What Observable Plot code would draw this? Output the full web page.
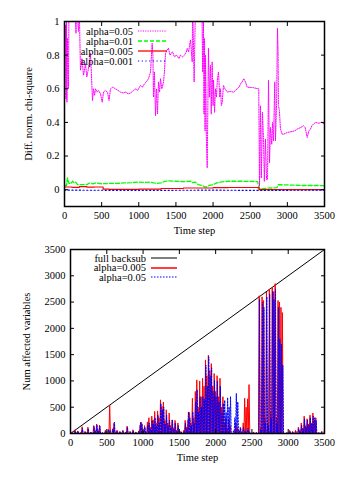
<!DOCTYPE html>
<html><head><meta charset="utf-8">
<script src="https://cdn.jsdelivr.net/npm/d3@7"></script>
<script src="https://cdn.jsdelivr.net/npm/@observablehq/plot@0.6"></script>
<style>
body{margin:0;background:#fff;font-family:"Liberation Serif","DejaVu Serif",serif;}
#wrap{position:relative;width:359px;height:477px;overflow:hidden;}
.leg{position:absolute;font:10.5px "Liberation Serif",serif;color:#000;display:flex;align-items:center;white-space:nowrap;}
.leg span{text-align:right;display:inline-block;}
.leg svg{margin-left:5px;}
</style></head>
<body><div id="wrap"></div>
<script>
// ---------- Top chart data ----------
const timeTicks = [0,500,1000,1500,2000,2500,3000,3500];
const topYTicks = [0,0.2,0.4,0.6,0.8,1];
const a05T = [0,13,20,27,33,40,54,60,100,148,155,165,188,200,215,235,256,283,300,323,350,365,377,390,405,417,440,458,485,507,525,550,579,600,619,650,686,720,754,790,821,860,888,929,960,983,1023,1050,1077,1100,1131,1158,1180,1190,1198,1210,1225,1238,1252,1265,1280,1292,1310,1333,1345,1360,1380,1400,1420,1454,1480,1508,1540,1561,1590,1615,1640,1652,1670,1696,1719,1725,1736,1745,1763,1790,1804,1831,1850,1860,1871,1878,1885,1892,1898,1905,1910,1921,1930,1938,1950,1965,1975,1988,2000,2006,2020,2032,2045,2059,2073,2090,2100,2112,2123,2140,2160,2194,2230,2275,2300,2325,2350,2369,2390,2413,2436,2459,2490,2517,2560,2598,2615,2625,2638,2650,2665,2679,2690,2705,2720,2733,2746,2760,2773,2790,2800,2813,2831,2840,2855,2867,2875,2880,2893,2907,2930,2948,3000,3050,3100,3132,3180,3217,3240,3267,3290,3311,3330,3352,3379,3420,3460,3500];
const a05V = [0.56,0.98,0.54,1.0,0.52,0.9,0.6,1.1,1.1,1.0,0.93,1.1,0.94,1.05,0.71,0.78,0.68,0.75,0.67,0.72,0.81,0.66,0.53,0.6,0.56,0.6,0.58,0.59,0.57,0.52,0.58,0.59,0.58,0.53,0.6,0.61,0.6,0.59,0.58,0.575,0.58,0.57,0.575,0.59,0.6,0.59,0.62,0.61,0.63,0.64,0.66,0.7,0.87,0.8,0.55,0.7,0.44,0.6,0.45,0.64,0.58,0.66,0.6,0.64,0.7,0.81,0.83,0.84,0.8,0.82,0.79,0.8,0.78,0.8,0.79,0.8,0.82,0.84,0.82,0.89,0.76,1.1,0.86,0.64,1.1,1.05,1.1,1.05,1.1,0.7,1.0,0.45,0.9,0.35,0.8,0.55,0.3,0.13,0.5,0.84,0.55,0.74,0.45,0.76,0.5,0.65,0.46,0.6,0.55,0.66,0.7,0.55,0.6,0.5,0.52,0.62,0.6,0.58,0.585,0.58,0.59,0.6,0.61,0.628,0.64,0.66,0.64,0.61,0.608,0.608,0.605,0.6,0.6,0.02,0.5,0.07,0.46,0.3,0.05,0.3,0.06,0.06,0.65,0.16,0.37,0.27,0.4,0.29,0.64,0.29,0.51,0.96,0.82,0.5,0.47,0.36,0.33,0.33,0.34,0.345,0.35,0.36,0.37,0.38,0.37,0.31,0.35,0.36,0.38,0.39,0.4,0.395,0.4,0.39];
const a01T = [0,27,40,54,80,110,130,150,175,220,300,340,380,420,500,600,700,800,900,1000,1100,1150,1200,1250,1300,1350,1400,1500,1600,1700,1720,1760,1800,1850,1900,1950,2000,2050,2100,2200,2400,2600,2620,2700,2800,2860,2880,3000,3200,3400,3500];
const a01V = [0.025,0.025,0.07,0.04,0.035,0.05,0.04,0.045,0.03,0.03,0.03,0.04,0.035,0.04,0.035,0.037,0.037,0.04,0.042,0.045,0.043,0.045,0.04,0.038,0.04,0.05,0.052,0.05,0.048,0.05,0.042,0.045,0.03,0.025,0.015,0.025,0.03,0.04,0.045,0.05,0.05,0.048,0.005,0.008,0.01,0.012,0.03,0.028,0.025,0.025,0.024];
const a005T = [0,100,200,300,400,500,520,600,1000,1200,1300,1600,1800,2000,2200,2600,2620,3500];
const a005V = [0.016,0.014,0.018,0.015,0.016,0.016,0.003,0.002,0.003,0.003,0.007,0.01,0.01,0.012,0.013,0.012,0.0,0.002];
const a001T = [0,1000,2000,2620,3500];
const a001V = [-0.003,-0.004,-0.003,-0.004,-0.003];

// ---------- Bottom chart data ----------
const bottomYTicks = [0,500,1000,1500,2000,2500,3000,3500];
const sampleStep = 20;   // time steps between spike samples
const baseline = 0;      // series fall back to 0 between spikes
const fullT = [0,3500];
const fullV = [0,3500];
const red005 = [0,30,0,70,10,50,0,20,130,0,40,10,120,0,30,0,150,60,180,70,160,0,20,0,60,10,80,540,0,90,200,20,60,0,40,10,60,0,30,140,0,40,0,70,0,30,0,50,160,210,60,150,20,220,300,120,330,260,420,200,430,300,640,520,600,250,450,200,390,150,260,100,250,60,200,0,40,0,60,250,120,260,400,200,670,300,800,1020,500,1000,700,1050,900,1400,1100,1490,1200,1330,900,1140,800,1100,700,1050,500,700,200,300,100,280,150,0,0,60,200,100,40,120,20,200,670,500,660,930,0,0,30,0,20,0,2620,100,2600,2530,300,2690,200,2750,400,2780,2700,2850,300,2530,2500,2400,2300,0,0,20,0,60,0,40,0,60,10,120,60,200,100,330,150,280,180,350,200,390,250,300,0,20,0,40,0,60];
const blue05 = [0,20,0,50,0,40,0,10,100,0,30,0,90,0,20,0,130,40,160,50,140,0,10,0,50,0,70,60,0,80,215,10,50,0,30,0,50,0,20,120,0,30,0,50,0,20,0,40,215,180,40,120,10,150,200,80,250,180,300,150,350,200,570,450,500,180,350,150,255,100,255,80,200,40,150,0,30,0,40,200,80,410,300,150,410,200,600,830,400,700,500,700,650,1300,900,1460,1100,1250,800,1010,700,1000,600,900,400,570,630,400,680,500,700,0,50,300,760,600,50,100,10,120,50,30,100,40,0,0,20,0,10,0,2550,60,2500,2400,200,2600,150,2650,300,2700,2550,2750,200,2400,1800,1700,1300,0,0,10,0,40,0,30,0,40,0,90,40,160,80,280,120,250,150,300,180,330,300,250,0,10,0,30,0,40];

// ---------- helpers ----------
const FONT = '"Liberation Serif", serif';
function toRows(ts, vs){ return ts.map((t,i)=>({t, v: vs[i]})); }
function spikes(vs, offset){
  return vs.flatMap((v,i)=>[{t: i*sampleStep+offset, v}, {t: i*sampleStep+offset+sampleStep/2, v: baseline}]);
}
function gnuAxes(xt, yt, xlabel, ylabel, yLabelOffset){
  return [
    Plot.axisX(xt, {anchor:"bottom", tickSize:0, tickPadding:5, tickFormat:d=>String(d), fontSize:10.5, label:xlabel, labelAnchor:"center", labelOffset:27, labelArrow:"none"}),
    Plot.axisX(xt, {anchor:"bottom", tickSize:-4, tickFormat:()=>"", label:null}),
    Plot.axisX(xt, {anchor:"top", tickSize:-4, tickFormat:()=>"", label:null}),
    Plot.axisY(yt, {anchor:"left", tickSize:0, tickPadding:5, tickFormat:d=>String(d), fontSize:10.5, label:ylabel, labelAnchor:"center", labelOffset:yLabelOffset, labelArrow:"none"}),
    Plot.axisY(yt, {anchor:"left", tickSize:-4, tickFormat:()=>"", label:null}),
    Plot.axisY(yt, {anchor:"right", tickSize:-4, tickFormat:()=>"", label:null})
  ];
}

const wrap = document.getElementById("wrap");

const topChart = Plot.plot({
  width:359, height:240, marginLeft:64, marginRight:35, marginTop:21, marginBottom:34,
  style:{fontFamily:FONT, fontSize:"10.5px", color:"#000", background:"transparent"},
  x:{domain:[0,3500]}, y:{domain:[-0.1,1]},
  marks:[
    Plot.line(toRows(a05T,a05V), {x:"t", y:"v", stroke:"#ff00ff", strokeWidth:1, strokeDasharray:"1.2,1.2", clip:true}),
    Plot.line(toRows(a01T,a01V), {x:"t", y:"v", stroke:"#00ff00", strokeWidth:1.3, strokeDasharray:"4,2", clip:true}),
    Plot.line(toRows(a005T,a005V), {x:"t", y:"v", stroke:"#ff0000", strokeWidth:1.2, curve:"step-after", clip:true}),
    Plot.line(toRows(a001T,a001V), {x:"t", y:"v", stroke:"#0000ff", strokeWidth:1.2, strokeDasharray:"1.2,2.5", clip:true}),
    ...gnuAxes(timeTicks, topYTicks, "Time step", "Diff. norm. chi-square", 40),
    Plot.frame({stroke:"#000", strokeWidth:1.5})
  ]
});
topChart.style.position="absolute"; topChart.style.left="0px"; topChart.style.top="0px";
wrap.appendChild(topChart);

const botChart = Plot.plot({
  width:359, height:237, marginLeft:70, marginRight:35, marginTop:9, marginBottom:44,
  style:{fontFamily:FONT, fontSize:"10.5px", color:"#000", background:"transparent"},
  x:{domain:[0,3500]}, y:{domain:[0,3500]},
  marks:[
    Plot.line(toRows(fullT,fullV), {x:"t", y:"v", stroke:"#000", strokeWidth:1}),
    Plot.line(spikes(red005, 0), {x:"t", y:"v", stroke:"#ff0000", strokeWidth:1, clip:true}),
    Plot.line(spikes(blue05, 5), {x:"t", y:"v", stroke:"#0000ff", strokeWidth:1, strokeDasharray:"1.5,1.5", clip:true}),
    ...gnuAxes(timeTicks, bottomYTicks, "Time step", "Num affected variables", 48),
    Plot.frame({stroke:"#000", strokeWidth:1.5})
  ]
});
botChart.style.position="absolute"; botChart.style.left="0px"; botChart.style.top="240px";
wrap.appendChild(botChart);

// ---------- legends ----------
function legend(items, right, topY, rowH, sampleW){
  items.forEach((it,i)=>{
    const d = document.createElement("div");
    d.className="leg";
    d.style.right = (359-right)+"px";
    d.style.top = (topY + i*rowH - 7)+"px";
    d.style.height="14px";
    d.innerHTML = `<span>${it.label}</span><svg width="${sampleW}" height="14"><line x1="0" x2="${sampleW}" y1="7" y2="7" stroke="${it.color}" stroke-width="${it.w}" ${it.dash?`stroke-dasharray="${it.dash}"`:""}/></svg>`;
    wrap.appendChild(d);
  });
}
legend([
  {label:"alpha=0.05", color:"#ff00ff", w:1, dash:"1.2,1.2"},
  {label:"alpha=0.01", color:"#00ff00", w:1.5, dash:"4,2"},
  {label:"alpha=0.005", color:"#ff0000", w:1.3},
  {label:"alpha=0.001", color:"#0000ff", w:1.2, dash:"1.2,2.5"}
], 167, 31, 10, 29);
legend([
  {label:"full backsub", color:"#000", w:1},
  {label:"alpha=0.005", color:"#ff0000", w:1.5},
  {label:"alpha=0.05", color:"#0000ff", w:1.2, dash:"1.5,1.5"}
], 177, 258, 9.7, 26);
</script></body></html>
